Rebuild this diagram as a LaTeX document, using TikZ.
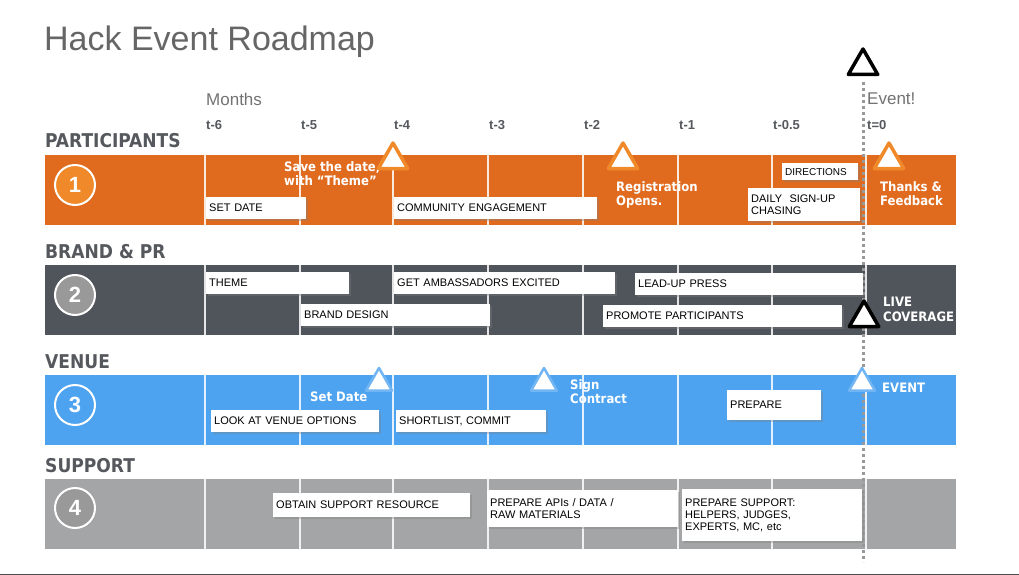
\documentclass[tikz,border=0pt]{standalone}
\usepackage{fontspec}
\setmainfont{Liberation Sans}
\newfontfamily\cond{DejaVu Sans Condensed}
\usetikzlibrary{shapes.geometric,shadows}
\definecolor{cor}{HTML}{E06B1F}
\definecolor{cdk}{HTML}{50555C}
\definecolor{cbl}{HTML}{4EA3F0}
\definecolor{cgr}{HTML}{A3A5A6}
\definecolor{ctri}{HTML}{F0892A}
\definecolor{clab}{HTML}{55585D}
\begin{document}
\begin{tikzpicture}[x=1pt,y=-1pt,
  band/.style={draw=none},
  task/.style={fill=white,draw=none,drop shadow={shadow xshift=1.5pt,shadow yshift=-1.5pt,opacity=.35},anchor=north west,inner sep=0pt,font=\fontsize{11}{12}\selectfont,align=left},
  tick/.style={font=\fontsize{13}{14}\selectfont\bfseries,text=clab,anchor=west,inner sep=1pt},
  sect/.style={font=\cond\fontsize{19}{20}\selectfont\bfseries,text=clab,anchor=west,inner sep=0pt},
  wlab/.style={font=\cond\fontsize{13}{14.5}\selectfont\bfseries,text=white,align=left,anchor=north west,inner sep=0pt},
  tri/.style={regular polygon,regular polygon sides=3,minimum size=34pt,inner sep=0pt,fill=white,line width=3.5pt,line join=round,draw=#1},
  num/.style={circle,draw=white,line width=2pt,minimum size=40pt,text=white,font=\fontsize{22}{22}\selectfont\bfseries}]
\useasboundingbox (0,0) rectangle (1019,575);
\fill[white] (0,0) rectangle (1019,575);
\draw[black!70,line width=0.8pt] (0,574) -- (1019,574);
\node[anchor=west,inner sep=0pt,text=black!60,font=\fontsize{34}{34}\selectfont] (title) at (44,42) {Hack Event Roadmap};
\node[anchor=west,inner sep=0pt,text=black!55,font=\fontsize{17}{17}\selectfont] (months) at (206,99) {Months};
\node[anchor=west,inner sep=0pt,text=black!55,font=\fontsize{17}{17}\selectfont] (event) at (867,99) {Event!};
\foreach \x/\t [count=\i] in {205/t-6,300/t-5,393/t-4,488/t-3,583/t-2,678/t-1,772/t-0.5,866/t=0}
  \node[tick] (tk\i) at (\x,125) {\t};
% bands
\foreach \yy/\c [count=\i] in {155/cor,265/cdk,375/cbl,479/cgr}{
  \fill[\c] (45,\yy) rectangle (956,\yy+70);
  \foreach \x in {205,300,393,488,583,678,772,866}
    \draw[white!85!\c,line width=1.2pt] (\x,\yy) -- (\x,\yy+70);
}
\node[sect] (s1) at (45,141) {PARTICIPANTS};
\node[sect] (s2) at (45,252) {BRAND \& PR};
\node[sect] (s3) at (45,362) {VENUE};
\node[sect] (s4) at (45,466) {SUPPORT};
\node[num,fill=ctri] (n1) at (75,185) {1};
\node[num,fill=black!40] (n2) at (75,295) {2};
\node[num,fill=cbl] (n3) at (75,405) {3};
\node[num,fill=black!40] (n4) at (75,508) {4};
% dotted line
\draw[black!40,line width=3pt,dash pattern=on 3pt off 3pt] (863,82) -- (863,562);
% band 1
\node[task,minimum width=100pt,minimum height=22pt,text width=94pt,inner xsep=3pt] (b1) at (206,197) {SET DATE};
\node[task,minimum width=203pt,minimum height=22pt,text width=197pt,inner xsep=3pt] (b2) at (394,197) {COMMUNITY ENGAGEMENT};
\node[task,minimum width=76pt,minimum height=17pt,text width=70pt,inner xsep=3pt,font=\fontsize{10}{11}\selectfont] (b3) at (782,163) {DIRECTIONS};
\node[task,minimum width=112pt,minimum height=33pt,text width=106pt,inner xsep=3pt] (b4) at (748,188) {DAILY\ \ SIGN-UP\\CHASING};
\node[wlab] (w1) at (284,161) {Save the date,\\with “Theme”};
\node[tri=ctri] (t1) at (393,160) {};
\node[wlab] (w2) at (616,181) {Registration\\Opens.};
\node[tri=ctri] (t2) at (623,160) {};
\node[wlab] (w3) at (880,181) {Thanks \&\\Feedback};
\node[tri=ctri] (t3) at (889,160) {};
% band 2
\node[task,minimum width=143pt,minimum height=22pt,text width=137pt,inner xsep=3pt] (c1) at (206,272) {THEME};
\node[task,minimum width=221pt,minimum height=22pt,text width=215pt,inner xsep=3pt] (c2) at (394,272) {GET AMBASSADORS EXCITED};
\node[task,minimum width=228pt,minimum height=22pt,text width=222pt,inner xsep=3pt] (c3) at (635,273) {LEAD-UP PRESS};
\node[task,minimum width=189pt,minimum height=22pt,text width=183pt,inner xsep=3pt] (c4) at (301,304) {BRAND DESIGN};
\node[task,minimum width=239pt,minimum height=22pt,text width=233pt,inner xsep=3pt] (c5) at (603,305) {PROMOTE PARTICIPANTS};
\node[wlab] (w4) at (883,297) {LIVE\\COVERAGE};
\node[tri=black] (t4) at (864,318) {};
\node[tri=black] (t0) at (863,66) {};
% band 3
\node[task,minimum width=168pt,minimum height=22pt,text width=162pt,inner xsep=3pt] (d1) at (211,410) {LOOK AT VENUE OPTIONS};
\node[task,minimum width=150pt,minimum height=22pt,text width=144pt,inner xsep=3pt] (d2) at (396,410) {SHORTLIST, COMMIT};
\node[task,minimum width=94pt,minimum height=30pt,text width=88pt,inner xsep=3pt] (d3) at (727,390) {PREPARE};
\node[wlab,anchor=west] (w5) at (310,397) {Set Date};
\node[tri=cbl!80!white,line width=2.5pt,minimum size=30pt] (t5) at (379,383) {};
\node[wlab] (w6) at (570,379) {Sign\\Contract};
\node[tri=cbl!80!white,line width=2.5pt,minimum size=30pt] (t6) at (544,383) {};
\node[wlab,anchor=west] (w7) at (882,388) {EVENT};
\node[tri=cbl!80!white,line width=2.5pt,minimum size=30pt] (t7) at (862,383) {};
% band 4
\node[task,minimum width=197pt,minimum height=24pt,text width=191pt,inner xsep=3pt] (e1) at (273,493) {OBTAIN SUPPORT RESOURCE};
\node[task,minimum width=191pt,minimum height=37pt,text width=185pt,inner xsep=3pt] (e2) at (487,490) {PREPARE APIs / DATA /\\RAW MATERIALS};
\node[task,minimum width=180pt,minimum height=52pt,text width=174pt,inner xsep=3pt] (e3) at (682,489) {PREPARE SUPPORT:\\HELPERS, JUDGES,\\EXPERTS, MC, etc};
\end{tikzpicture}
\end{document}
